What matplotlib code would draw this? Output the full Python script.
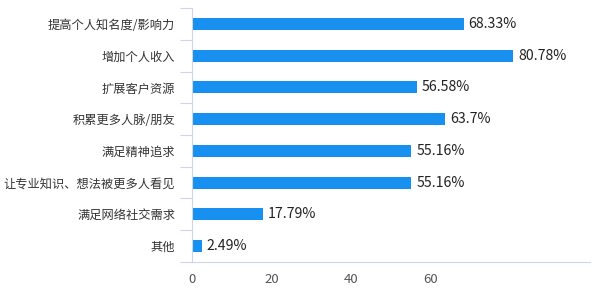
import matplotlib
matplotlib.use("Agg")
import matplotlib.pyplot as plt
import numpy as np

plt.rcParams['font.family'] = ['Noto Sans CJK SC', 'DejaVu Sans']

categories = ["提高个人知名度/影响力", "增加个人收入", "扩展客户资源", "积累更多人脉/朋友",
              "满足精神追求", "让专业知识、想法被更多人看见", "满足网络社交需求", "其他"]
values = [68.33, 80.78, 56.58, 63.7, 55.16, 55.16, 17.79, 2.49]
labels = ["68.33%", "80.78%", "56.58%", "63.7%", "55.16%", "55.16%", "17.79%", "2.49%"]
xticks = [0, 20, 40, 60]

fig = plt.figure(figsize=(6, 3), dpi=100)
ax = fig.add_axes([0.32, 0.127, 0.663, 0.846])
y = np.arange(len(categories))
ax.barh(y, values, height=0.38, color="#1890f0")
for yi, v, lab in zip(y, values, labels):
    ax.text(v + 1.2, yi, lab, va="center", ha="left", fontsize=10.2, color="#222222")

ax.set_xlim(0, 100)
ax.set_ylim(len(categories) - 0.5, -0.5)
ax.set_yticks(y)
ax.set_yticklabels(categories, fontsize=8.8, color="#333333")
ax.set_yticks(np.arange(-0.5, len(categories)), minor=True)
ax.tick_params(axis="y", which="major", length=0, pad=12)
ax.tick_params(axis="y", which="minor", length=9, color="#ccd6eb", width=0.8)
ax.set_xticks(xticks)
ax.set_xticklabels([str(t) for t in xticks], fontsize=9.5, color="#555555")
ax.tick_params(axis="x", length=0, pad=8)
for s in ["top", "right"]:
    ax.spines[s].set_visible(False)
ax.spines["left"].set_color("#ccd6eb")
ax.spines["bottom"].set_color("#ccd6eb")
ax.spines["left"].set_linewidth(0.8)
ax.spines["bottom"].set_linewidth(0.8)

fig.savefig("out.png", dpi=100)
